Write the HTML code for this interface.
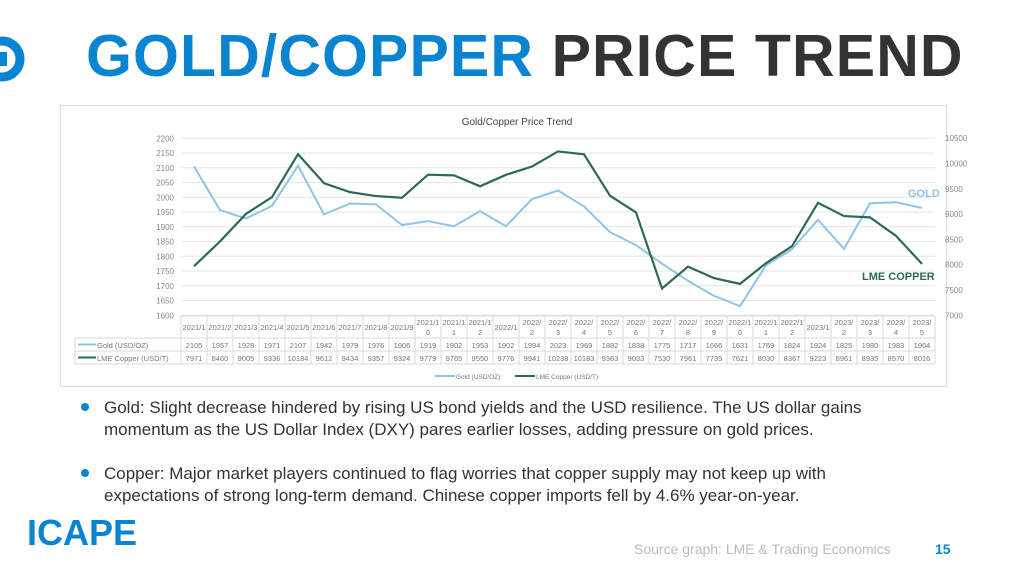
<!DOCTYPE html>
<html><head><meta charset="utf-8"><style>
body{margin:0;width:1024px;height:574px;background:#fff;overflow:hidden;position:relative;font-family:"Liberation Sans",sans-serif}
.t{position:absolute;left:86px;top:22px;font-size:59px;font-weight:bold;letter-spacing:1.1px;white-space:nowrap}
.b{position:absolute;left:84px;font-size:17px;color:#333;line-height:22px;width:835px}
.b:before{content:"";position:absolute;left:-3px;top:6px;width:8px;height:8px;border-radius:50%;background:#0a84d0}
.b span{display:block;padding-left:20px}
</style></head><body>
<svg width="1024" height="574" style="position:absolute;left:0;top:0" id="s">
<circle cx="2" cy="59" r="18" fill="none" stroke="#0a84d0" stroke-width="9"/>
<rect x="-5" y="52" width="12" height="14" fill="#0a84d0"/>
<rect x="60.5" y="105.5" width="886" height="281" fill="#fff" stroke="#ddd"/>
<text x="517" y="125" font-size="10" fill="#444" text-anchor="middle" font-family="Liberation Sans">Gold/Copper Price Trend</text>
<g id="g"></g>
</svg>
<div class="t"><span style="color:#0a84d0">GOLD/COPPER</span> <span style="color:#333">PRICE TREND</span></div>
<div class="b" style="top:397px"><span>Gold: Slight decrease hindered by rising US bond yields and the USD resilience. The US dollar gains momentum as the US Dollar Index (DXY) pares earlier losses, adding pressure on gold prices.</span></div>
<div class="b" style="top:463px"><span>Copper: Major market players continued to flag worries that copper supply may not keep up with expectations of strong long-term demand. Chinese copper imports fell by 4.6% year-on-year.</span></div>
<div style="position:absolute;left:27px;top:512px;font-size:36px;font-weight:bold;color:#0a84d0;letter-spacing:0px">ICAPE</div>
<div style="position:absolute;left:634px;top:541px;font-size:14px;color:#bbb">Source graph: LME &amp; Trading Economics</div>
<div style="position:absolute;left:935px;top:541px;font-size:14px;color:#0a84d0;font-weight:bold">15</div>
<script>
var lab=["2021/1","2021/2","2021/3","2021/4","2021/5","2021/6","2021/7","2021/8","2021/9","2021/1|0","2021/1|1","2021/1|2","2022/1","2022/|2","2022/|3","2022/|4","2022/|5","2022/|6","2022/|7","2022/|8","2022/|9","2022/1|0","2022/1|1","2022/1|2","2023/1","2023/|2","2023/|3","2023/|4","2023/|5"];
var G=[2105,1957,1928,1971,2107,1942,1979,1976,1906,1919,1902,1953,1902,1994,2023,1969,1882,1838,1775,1717,1666,1631,1769,1824,1924,1825,1980,1983,1964];
var C=[7971,8460,9005,9336,10184,9612,9434,9357,9324,9779,9765,9550,9776,9941,10238,10183,9363,9033,7530,7961,7735,7621,8030,8367,9223,8961,8935,8570,8016];
var h='',F=' font-family="Liberation Sans" ';
function yg(v){return 315.3-(v-1600)*0.295}
function yc(v){return 315.3-(v-7000)*0.0506}
for(var i=0;i<=12;i++){var v=1600+i*50,y=yg(v);h+='<line x1="181" x2="935" y1="'+y+'" y2="'+y+'" stroke="#e6e6e6"/><text x="174" y="'+(y+3)+'" font-size="8" fill="#888" text-anchor="end"'+F+'>'+v+'</text>';}
for(var i=0;i<=7;i++){var v=7000+i*500,y=yc(v);h+='<text x="945" y="'+(y+3)+'" font-size="8" fill="#888"'+F+'>'+v+'</text>';}
var x0=181,w=26;
function px(i){return x0+w*i+13}
var pg='',pc='';
for(var i=0;i<29;i++){pg+=(i?'L':'M')+px(i)+' '+yg(G[i]);pc+=(i?'L':'M')+px(i)+' '+yc(C[i]);}
h+='<path d="'+pg+'" fill="none" stroke="#8fc4e8" stroke-width="2"/><path d="'+pc+'" fill="none" stroke="#2d6a55" stroke-width="2.2"/>';
var t0=316,t1=338,t2=351,t3=364,xe=x0+29*w;
h+='<g stroke="#d8d8d8" fill="none"><line x1="'+x0+'" x2="'+xe+'" y1="'+t0+'" y2="'+t0+'"/><line x1="75" x2="'+xe+'" y1="'+t1+'" y2="'+t1+'"/><line x1="75" x2="'+xe+'" y1="'+t2+'" y2="'+t2+'"/><line x1="75" x2="'+xe+'" y1="'+t3+'" y2="'+t3+'"/><line x1="75" x2="75" y1="'+t1+'" y2="'+t3+'"/>';
for(var i=0;i<=29;i++){var x=x0+i*w;h+='<line x1="'+x+'" x2="'+x+'" y1="'+t0+'" y2="'+t3+'"/>';}
h+='</g>';
for(var i=0;i<29;i++){var p=lab[i].split('|'),cx=px(i);
if(p.length==1)h+='<text x="'+cx+'" y="330" font-size="7.5" fill="#777" text-anchor="middle"'+F+'>'+p[0]+'</text>';
else h+='<text x="'+cx+'" y="325" font-size="7.5" fill="#777" text-anchor="middle"'+F+'>'+p[0]+'</text><text x="'+cx+'" y="335" font-size="7.5" fill="#777" text-anchor="middle"'+F+'>'+p[1]+'</text>';
h+='<text x="'+cx+'" y="348" font-size="7.5" fill="#777" text-anchor="middle"'+F+'>'+G[i]+'</text><text x="'+cx+'" y="361" font-size="7.5" fill="#777" text-anchor="middle"'+F+'>'+C[i]+'</text>';}
h+='<line x1="78" x2="96" y1="344.5" y2="344.5" stroke="#8fc4e8" stroke-width="2"/><text x="97" y="348" font-size="7.5" fill="#777"'+F+'>Gold (USD/OZ)</text>';
h+='<line x1="78" x2="96" y1="357.5" y2="357.5" stroke="#2d6a55" stroke-width="2"/><text x="97" y="361" font-size="7.5" fill="#777"'+F+'>LME Copper (USD/T)</text>';
h+='<line x1="435" x2="455" y1="376" y2="376" stroke="#8fc4e8" stroke-width="2"/><text x="456" y="379" font-size="6.5" fill="#777"'+F+'>Gold (USD/OZ)</text>';
h+='<line x1="515" x2="535" y1="376" y2="376" stroke="#2d6a55" stroke-width="2"/><text x="536" y="379" font-size="6.5" fill="#777"'+F+'>LME Copper (USD/T)</text>';
h+='<text x="908" y="197" font-size="11" font-weight="bold" fill="#8fc4e8"'+F+'>GOLD</text><text x="862" y="280" font-size="11" font-weight="bold" fill="#2d6a55"'+F+'>LME COPPER</text>';
document.getElementById('g').innerHTML=h;
</script>
</body></html>
